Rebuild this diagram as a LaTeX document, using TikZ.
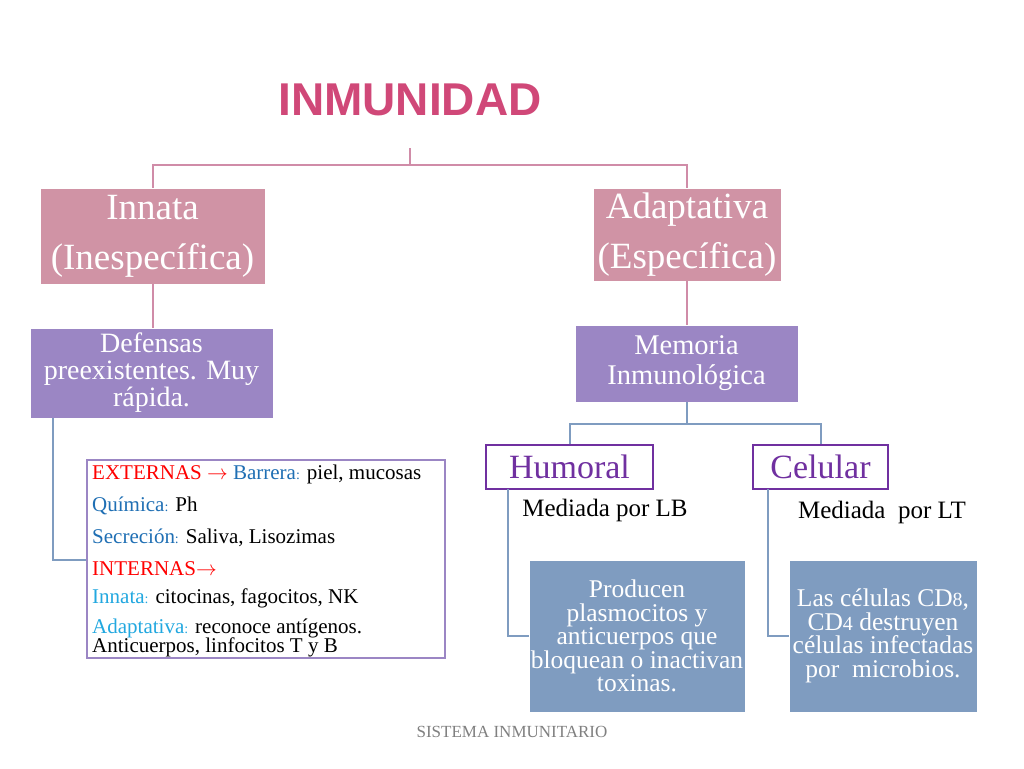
\documentclass[tikz,border=0pt]{standalone}
\usepackage{fontspec}
\setmainfont{Liberation Serif}
\newfontfamily\titlefont{Liberation Sans}
\definecolor{pinkbox}{HTML}{D093A5}
\definecolor{purpbox}{HTML}{9B86C4}
\definecolor{bluebox}{HTML}{7F9CC0}
\definecolor{linkpink}{HTML}{D08CA8}
\definecolor{deeppurp}{HTML}{7030A0}
\definecolor{titlepink}{HTML}{D04878}
\definecolor{txtblue}{HTML}{1F6FB4}
\definecolor{txtcyan}{HTML}{22A8E0}
\newcommand{\smc}{\fontsize{14}{14}\selectfont:}
\begin{document}
\begin{tikzpicture}[x=1pt,y=-1pt,
  pbox/.style={fill=pinkbox,draw=white,text=white,align=center,font=\fontsize{37}{50}\selectfont,inner sep=0pt},
  vbox/.style={fill=purpbox,draw=white,text=white,align=center,font=\fontsize{28}{27}\selectfont,inner sep=0pt},
  bbox/.style={fill=bluebox,draw=white,text=white,align=center,font=\fontsize{25.5}{23.5}\selectfont,inner sep=0pt},
  wbox/.style={fill=white,draw=deeppurp,line width=1.5pt,text=deeppurp,font=\fontsize{34}{34}\selectfont},
  lpink/.style={draw=linkpink,line width=2pt},
  lblue/.style={draw=bluebox,line width=2pt}]
\useasboundingbox (0,0) rectangle (1024,768);
\fill[white] (0,0) rectangle (1024,768);
\node[text=titlepink,font=\titlefont\bfseries\fontsize{46}{46}\selectfont] (title) at (410,100) {INMUNIDAD};
\node[pbox,minimum width=225pt,minimum height=96pt] (inn) at (152.5,236) {Innata\\(Inespecífica)};
\node[pbox,minimum width=188pt,minimum height=93pt] (ada) at (687,234.5) {Adaptativa\\(Específica)};
\coordinate (tb) at (410,148);
\draw[lpink] (tb) -- ++(0,17);
\draw[lpink] (inn.north) -- ++(0,-23) -| (ada.north);
\node[vbox,minimum width=243pt,minimum height=90pt] (def) at (151.5,373) {Defensas\\preexistentes. Muy\\rápida.};
\node[vbox,minimum width=223pt,minimum height=77pt,font=\fontsize{28.5}{30}\selectfont] (mem) at (686.5,363.5) {Memoria\\Inmunológica};
\draw[lpink] (inn.south) -- (inn.south |- def.north);
\draw[lpink] (ada.south) -- (ada.south |- mem.north);
\node[draw=purpbox,line width=1.5pt,fill=white,minimum width=358pt,minimum height=198pt,inner sep=0pt] (ext) at (266,559) {};
\node[anchor=north west,align=left,inner sep=0pt,font=\fontsize{21}{20}\selectfont] (exttxt) at (92,465) {%
\textcolor{red}{EXTERNAS $\rightarrow$} \textcolor{txtblue}{Barrera{\smc}} piel, mucosas\\[12pt]
\textcolor{txtblue}{Química{\smc}} Ph\\[12pt]
\textcolor{txtblue}{Secreción{\smc}} Saliva, Lisozimas\\[12pt]
\textcolor{red}{INTERNAS$\rightarrow$}\\[8pt]
\textcolor{txtcyan}{Innata{\smc}} citocinas, fagocitos, NK\\[10pt]
\textcolor{txtcyan}{Adaptativa{\smc}} reconoce antígenos.\\[-1pt]
Anticuerpos, linfocitos T y B};
\draw[lblue] (53,418) |- (ext.west |- 0,560);
\node[wbox,minimum width=167pt,minimum height=44pt] (hum) at (569.5,467) {Humoral};
\node[wbox,minimum width=135pt,minimum height=44pt] (cel) at (820.5,467) {Celular};
\draw[lblue] (mem.south) -- ++(0,23);
\draw[lblue] (hum.north) -- ++(0,-20) -| (cel.north);
\node[font=\fontsize{25}{25}\selectfont] (lb) at (605,510) {Mediada por LB};
\node[font=\fontsize{25}{25}\selectfont] (lt) at (882,512) {Mediada\ \ por LT};
\node[bbox,minimum width=216pt,minimum height=152pt] (b1) at (637,636) {Producen\\plasmocitos y\\anticuerpos que\\bloquean o inactivan\\toxinas.};
\node[bbox,minimum width=188pt,minimum height=152pt] (b2) at (883,636) {Las células CD{\fontsize{20}{20}\selectfont 8},\\CD{\fontsize{20}{20}\selectfont 4} destruyen\\células infectadas\\por\ \ microbios.};
\draw[lblue] (508,489) |- (b1.west);
\draw[lblue] (768,489) |- (b2.west);
\node[text=gray,font=\fontsize{17}{17}\selectfont] (foot) at (512,732) {SISTEMA INMUNITARIO};
\end{tikzpicture}
\end{document}
